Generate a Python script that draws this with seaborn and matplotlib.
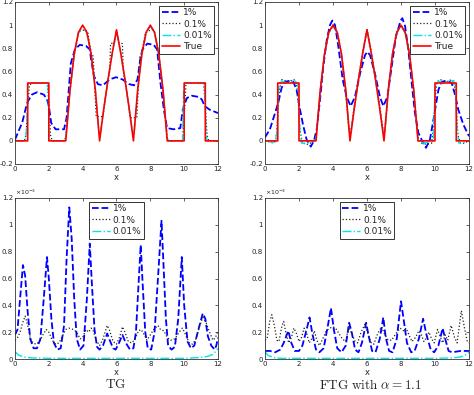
import numpy as np
import pandas as pd
import matplotlib
matplotlib.use("Agg")
import matplotlib.pyplot as plt
import seaborn as sns

# ---------------- data ----------------
# True solution (same in both upper panels)
true_x = [0, 0.75, 0.75, 2.0, 2.0, 3.0, 3.25, 3.5, 3.75, 4.0, 4.25, 4.5, 4.75, 5.0,
          5.25, 5.5, 5.75, 6.0, 6.25, 6.5, 6.75, 7.0, 7.25, 7.5, 7.75, 8.0, 8.25,
          8.5, 8.75, 9.0, 10.0, 10.0, 11.25, 11.25, 12.0]
true_y = [0, 0, 0.5, 0.5, 0, 0, 0.4375, 0.75, 0.9375, 1.0, 0.9375, 0.75, 0.4375, 0.0,
          0.28, 0.53, 0.76, 0.96, 0.76, 0.53, 0.28, 0.0, 0.4375, 0.75, 0.9375, 1.0,
          0.9375, 0.75, 0.4375, 0.0, 0.0, 0.5, 0.5, 0.0, 0.0]

# TG reconstructions
tg1_x = [0, 0.43, 0.72, 1.0, 1.3, 1.7, 1.89, 2.0, 2.14, 2.4, 2.9, 3.05, 3.3, 3.54, 3.83,
         4.2, 4.42, 4.5, 4.67, 4.9, 5.2, 5.58, 5.97, 6.36, 6.75, 7.04, 7.24, 7.4, 7.53,
         7.82, 8.2, 8.4, 8.6, 8.8, 8.99, 9.38, 9.77, 9.92, 10.16, 10.45, 10.84, 11.03,
         11.22, 11.5, 12.0]
tg1_y = [0.01, 0.16, 0.33, 0.40, 0.42, 0.40, 0.36, 0.30, 0.155, 0.10, 0.10, 0.20, 0.67,
         0.79, 0.83, 0.82, 0.79, 0.70, 0.56, 0.49, 0.48, 0.53, 0.55, 0.53, 0.49, 0.48,
         0.53, 0.70, 0.79, 0.84, 0.83, 0.79, 0.50, 0.27, 0.11, 0.10, 0.11, 0.27, 0.37,
         0.39, 0.38, 0.36, 0.30, 0.27, 0.24]
tg01_x = [0, 0.55, 0.65, 0.75, 0.85, 1.0, 1.9, 2.0, 2.1, 2.2, 2.9, 3.0, 3.25, 3.5, 3.75,
          3.85, 4.15, 4.3, 4.5, 4.62, 4.7, 4.8, 5.2, 5.3, 5.5, 5.6, 5.65, 5.88, 6.0, 6.12,
          6.35, 6.4, 6.5, 6.7, 6.8, 7.2, 7.3, 7.38, 7.5, 7.7, 7.85, 8.15, 8.25, 8.5, 8.75,
          9.0, 9.1, 9.9, 10.0, 10.1, 10.2, 11.15, 11.25, 11.35, 11.45, 12.0]
tg01_y = [0, 0, 0.05, 0.30, 0.48, 0.5, 0.5, 0.35, 0.05, 0, 0, 0.03, 0.43, 0.74, 0.93,
          0.95, 0.96, 0.94, 0.76, 0.73, 0.50, 0.21, 0.21, 0.33, 0.53, 0.60, 0.84, 0.85,
          0.95, 0.85, 0.84, 0.60, 0.53, 0.33, 0.20, 0.20, 0.50, 0.73, 0.76, 0.93, 0.95,
          0.96, 0.94, 0.75, 0.44, 0.02, 0, 0, 0.2, 0.48, 0.5, 0.5, 0.3, 0.05, 0, 0]
tg001_x = [0, 0.6, 0.68, 0.75, 0.85, 1.95, 2.02, 2.1, 2.95, 3.0, 3.25, 3.5, 3.75, 4.0,
           4.25, 4.5, 4.75, 4.95, 5.05, 5.25, 5.5, 5.75, 6.0, 6.25, 6.5, 6.75, 6.95,
           7.05, 7.25, 7.5, 7.75, 8.0, 8.25, 8.5, 8.75, 9.0, 9.1, 9.9, 9.97, 10.05,
           11.2, 11.28, 11.35, 12.0]
tg001_y = [0, 0, 0.08, 0.48, 0.5, 0.5, 0.03, 0, 0, 0.02, 0.43, 0.75, 0.93, 0.99, 0.93,
           0.75, 0.44, 0.08, 0.08, 0.27, 0.53, 0.76, 0.94, 0.76, 0.53, 0.27, 0.08, 0.08,
           0.43, 0.75, 0.93, 0.99, 0.93, 0.75, 0.44, 0.02, 0, 0, 0.45, 0.5, 0.5, 0.1,
           0, 0]

# FTG reconstructions
ftg1_x = [0, 0.29, 0.59, 0.78, 0.98, 1.18, 1.47, 1.67, 1.86, 2.06, 2.25, 2.45, 2.69,
          2.88, 3.04, 3.24, 3.43, 3.63, 3.82, 3.96, 4.12, 4.31, 4.57, 4.8, 5.04, 5.29,
          5.59, 5.88, 6.02, 6.18, 6.47, 6.76, 6.96, 7.2, 7.45, 7.7, 7.98, 8.08, 8.24,
          8.43, 8.63, 8.82, 9.02, 9.31, 9.47, 9.7, 9.94, 10.2, 10.39, 10.69, 10.98,
          11.18, 11.37, 11.67, 12.0]
ftg1_y = [0.03, 0.10, 0.24, 0.33, 0.46, 0.51, 0.52, 0.51, 0.44, 0.27, 0.13, 0.01, -0.05,
          0.0, 0.10, 0.36, 0.64, 0.87, 1.0, 1.04, 1.0, 0.82, 0.53, 0.38, 0.30, 0.38,
          0.58, 0.74, 0.77, 0.74, 0.58, 0.38, 0.30, 0.38, 0.64, 0.90, 1.04, 1.06, 0.99,
          0.79, 0.50, 0.24, 0.07, -0.02, -0.06, 0.01, 0.21, 0.44, 0.51, 0.52, 0.50,
          0.40, 0.27, 0.14, 0.04]
ftg01_x = [0, 0.3, 0.5, 0.65, 0.75, 0.85, 1.0, 1.35, 1.7, 1.85, 1.95, 2.05, 2.2, 2.5,
           2.8, 3.0, 3.25, 3.5, 3.75, 4.0, 4.25, 4.5, 4.75, 4.92, 5.0, 5.08, 5.25, 5.5,
           5.75, 6.0, 6.25, 6.5, 6.75, 6.92, 7.0, 7.08, 7.25, 7.5, 7.75, 8.0, 8.25, 8.5,
           8.75, 9.0, 9.2, 9.5, 9.8, 9.9, 10.0, 10.1, 10.3, 10.65, 11.0, 11.15, 11.25,
           11.35, 11.5, 11.7, 12.0]
ftg01_y = [0, -0.01, -0.02, 0.02, 0.2, 0.45, 0.53, 0.51, 0.53, 0.5, 0.35, 0.1, -0.02,
           -0.03, -0.01, 0.03, 0.43, 0.75, 0.94, 1.0, 0.94, 0.75, 0.43, 0.12, 0.06, 0.12,
           0.3, 0.54, 0.77, 0.97, 0.77, 0.54, 0.3, 0.12, 0.06, 0.12, 0.43, 0.75, 0.94,
           1.0, 0.94, 0.75, 0.43, 0.03, -0.02, -0.03, -0.02, 0.1, 0.35, 0.5, 0.53, 0.51,
           0.53, 0.48, 0.3, 0.05, -0.02, -0.02, 0.0]
ftg001_x = [0, 0.4, 0.6, 0.72, 0.8, 0.9, 1.3, 1.75, 1.95, 2.05, 2.15, 2.5, 2.9, 3.0,
            3.25, 3.5, 3.75, 4.0, 4.25, 4.5, 4.75, 4.95, 5.05, 5.25, 5.5, 5.75, 6.0,
            6.25, 6.5, 6.75, 6.95, 7.05, 7.25, 7.5, 7.75, 8.0, 8.25, 8.5, 8.75, 9.0,
            9.3, 9.9, 10.0, 10.1, 10.5, 11.1, 11.2, 11.3, 11.4, 11.8, 12.0]
ftg001_y = [0, -0.01, -0.02, 0.1, 0.45, 0.52, 0.5, 0.52, 0.48, 0.1, -0.02, -0.02, 0.0,
            0.02, 0.43, 0.75, 0.93, 0.99, 0.93, 0.75, 0.44, 0.08, 0.08, 0.27, 0.53,
            0.76, 0.95, 0.76, 0.53, 0.27, 0.08, 0.08, 0.43, 0.75, 0.93, 0.99, 0.93,
            0.75, 0.44, 0.0, -0.02, 0.0, 0.45, 0.52, 0.5, 0.52, 0.48, 0.1, -0.02,
            -0.01, 0]

# Errors (units of 1e-3)
err_scale = 1e-3
tge1_x = [0, 0.15, 0.3, 0.47, 0.6, 0.75, 0.9, 1.1, 1.3, 1.5, 1.7, 1.89, 2.0, 2.15, 2.3,
          2.5, 2.7, 2.9, 3.05, 3.21, 3.35, 3.5, 3.65, 3.85, 4.05, 4.25, 4.42, 4.55, 4.7,
          4.85, 5.0, 5.2, 5.45, 5.6, 5.8, 5.95, 6.15, 6.35, 6.55, 6.8, 7.0, 7.15, 7.3,
          7.43, 7.55, 7.7, 7.85, 8.05, 8.25, 8.45, 8.66, 8.78, 8.92, 9.05, 9.25, 9.45,
          9.65, 9.86, 10.0, 10.2, 10.4, 10.6, 10.8, 11.1, 11.25, 11.4, 11.6, 11.8, 11.9,
          12.0]
tge1_y = [0.18, 0.22, 0.45, 0.70, 0.62, 0.35, 0.15, 0.08, 0.08, 0.15, 0.45, 0.76, 0.60,
          0.30, 0.12, 0.07, 0.08, 0.25, 0.75, 1.13, 0.90, 0.45, 0.15, 0.07, 0.10, 0.45,
          0.86, 0.55, 0.22, 0.09, 0.07, 0.10, 0.19, 0.14, 0.08, 0.07, 0.12, 0.18, 0.12,
          0.07, 0.08, 0.20, 0.55, 0.85, 0.55, 0.20, 0.08, 0.07, 0.20, 0.60, 1.03, 0.70,
          0.30, 0.10, 0.07, 0.09, 0.30, 0.76, 0.40, 0.13, 0.08, 0.10, 0.20, 0.34, 0.30,
          0.17, 0.10, 0.07, 0.10, 0.16]
tge01_x = [0, 0.15, 0.3, 0.45, 0.6, 0.75, 0.9, 1.05, 1.25, 1.45, 1.65, 1.85, 2.0, 2.2,
           2.4, 2.6, 2.8, 3.0, 3.2, 3.45, 3.65, 3.85, 4.0, 4.2, 4.35, 4.5, 4.6, 4.8, 5.0,
           5.2, 5.45, 5.6, 5.8, 6.0, 6.2, 6.35, 6.5, 6.7, 6.9, 7.1, 7.3, 7.45, 7.6, 7.8,
           8.0, 8.2, 8.45, 8.6, 8.8, 9.0, 9.2, 9.45, 9.7, 9.9, 10.05, 10.3, 10.5, 10.7,
           10.9, 11.1, 11.3, 11.5, 11.7, 11.85, 12.0]
tge01_y = [0.14, 0.16, 0.20, 0.27, 0.32, 0.25, 0.16, 0.12, 0.11, 0.13, 0.18, 0.22, 0.20,
           0.14, 0.11, 0.12, 0.17, 0.22, 0.23, 0.22, 0.20, 0.15, 0.16, 0.22, 0.20, 0.23,
           0.22, 0.14, 0.10, 0.15, 0.25, 0.21, 0.13, 0.11, 0.17, 0.24, 0.20, 0.13, 0.12,
           0.15, 0.21, 0.22, 0.19, 0.14, 0.18, 0.22, 0.25, 0.22, 0.21, 0.16, 0.14, 0.15,
           0.20, 0.23, 0.19, 0.12, 0.11, 0.15, 0.24, 0.31, 0.27, 0.20, 0.14, 0.16, 0.21]
tge001_x = [0, 0.2, 0.5, 1.0, 2.0, 4.0, 6.0, 8.0, 10.0, 10.5, 11.0, 11.4, 11.7, 11.9, 12.0]
tge001_y = [0.055, 0.03, 0.015, 0.008, 0.005, 0.005, 0.005, 0.005, 0.005, 0.008, 0.012,
            0.02, 0.035, 0.06, 0.08]

ftge1_x = [0, 0.3, 0.6, 0.9, 1.1, 1.37, 1.55, 1.75, 2.0, 2.2, 2.45, 2.62, 2.8, 3.0, 3.2,
           3.45, 3.7, 3.88, 4.05, 4.25, 4.5, 4.75, 4.95, 5.1, 5.3, 5.5, 5.7, 5.95, 6.1,
           6.3, 6.5, 6.75, 6.96, 7.1, 7.3, 7.5, 7.75, 8.0, 8.15, 8.35, 8.6, 8.8, 9.05,
           9.3, 9.5, 9.75, 9.95, 10.2, 10.45, 10.6, 10.8, 11.0, 11.5, 12.0]
ftge1_y = [0.06, 0.06, 0.05, 0.07, 0.12, 0.21, 0.12, 0.06, 0.06, 0.10, 0.22, 0.31, 0.18,
           0.07, 0.05, 0.08, 0.25, 0.38, 0.22, 0.08, 0.05, 0.10, 0.27, 0.20, 0.07, 0.05,
           0.12, 0.27, 0.17, 0.06, 0.05, 0.15, 0.31, 0.16, 0.06, 0.05, 0.15, 0.43, 0.30,
           0.12, 0.05, 0.06, 0.15, 0.30, 0.18, 0.07, 0.05, 0.10, 0.23, 0.15, 0.06, 0.05,
           0.06, 0.06]
ftge01_x = [0, 0.12, 0.28, 0.4, 0.55, 0.7, 0.82, 1.0, 1.1, 1.25, 1.4, 1.55, 1.7, 1.85,
            2.0, 2.15, 2.3, 2.45, 2.6, 2.75, 2.9, 3.05, 3.2, 3.4, 3.6, 3.8, 4.0, 4.15,
            4.35, 4.55, 4.75, 4.92, 5.1, 5.3, 5.45, 5.65, 5.88, 6.05, 6.25, 6.4, 6.6,
            6.85, 7.05, 7.25, 7.45, 7.7, 7.95, 8.15, 8.3, 8.5, 8.65, 8.85, 9.05, 9.2,
            9.35, 9.5, 9.65, 9.8, 9.95, 10.15, 10.3, 10.45, 10.6, 10.75, 10.95, 11.15,
            11.3, 11.55, 11.75, 11.9, 12.0]
ftge01_y = [0.14, 0.15, 0.28, 0.33, 0.25, 0.14, 0.13, 0.25, 0.28, 0.18, 0.12, 0.16,
            0.23, 0.19, 0.13, 0.16, 0.23, 0.19, 0.12, 0.15, 0.21, 0.14, 0.10, 0.15,
            0.21, 0.23, 0.24, 0.23, 0.19, 0.15, 0.13, 0.24, 0.19, 0.13, 0.12, 0.20,
            0.26, 0.19, 0.12, 0.11, 0.18, 0.24, 0.18, 0.14, 0.14, 0.19, 0.23, 0.21,
            0.23, 0.17, 0.13, 0.16, 0.21, 0.18, 0.13, 0.16, 0.20, 0.15, 0.12, 0.22,
            0.17, 0.12, 0.18, 0.14, 0.25, 0.16, 0.12, 0.36, 0.22, 0.13, 0.12]
ftge001_x = [0, 0.2, 0.6, 1.0, 2.0, 4.0, 6.0, 8.0, 10.0, 11.0, 11.5, 11.8, 12.0]
ftge001_y = [0.055, 0.025, 0.008, 0.005, 0.005, 0.005, 0.005, 0.005, 0.005, 0.008,
             0.015, 0.03, 0.05]

labels_noise = ["1%", "0.1%", "0.01%"]
label_true = "True"
xticks = [0, 2, 4, 6, 8, 10, 12]
yticks_top = [-0.2, 0, 0.2, 0.4, 0.6, 0.8, 1, 1.2]
yticks_bot = [0, 0.2e-3, 0.4e-3, 0.6e-3, 0.8e-3, 1.0e-3, 1.2e-3]
panel_titles = ["$\\mathrm{TG}$", "$\\mathrm{FTG\\ with}\\ \\alpha = 1.1$"]

# ---------------- styling ----------------
sns.set_style("white")
plt.rcParams["font.family"] = ["DejaVu Sans"]
plt.rcParams["mathtext.fontset"] = "dejavusans"

STY = [dict(color="#0000ff", linestyle="--", linewidth=1.3),
       dict(color="#222222", linestyle=":", linewidth=0.9),
       dict(color="#00e5e5", linestyle="-.", linewidth=1.0)]
STY_TRUE = dict(color="#ff0000", linestyle="-", linewidth=1.2)

fig = plt.figure(figsize=(4.74, 3.95), dpi=100)
W, H = 474.0, 395.0


def make_ax(l, t, r, b):
    return fig.add_axes([l / W, 1 - b / H, (r - l) / W, (b - t) / H])


ax_tl = make_ax(15, 2, 218, 164)
ax_tr = make_ax(265, 2, 469, 164)
ax_bl = make_ax(15, 198, 218, 359)
ax_br = make_ax(265, 198, 469, 359)


def line(ax, xs, ys, sty, label, scale=1.0):
    df = pd.DataFrame({"x": xs, "y": np.asarray(ys, dtype=float) * scale})
    sns.lineplot(data=df, x="x", y="y", ax=ax, estimator=None, sort=False,
                 label=label, **sty)


def style_ax(ax, yticks, ylim):
    ax.set_xlim(0, 12)
    ax.set_ylim(*ylim)
    ax.set_xticks(xticks)
    ax.set_yticks(yticks)
    ax.tick_params(direction="in", top=True, right=True, length=2.5, width=0.5,
                   labelsize=5, pad=1.5, colors="#222222")
    for s in ax.spines.values():
        s.set_linewidth(0.6)
        s.set_color("#333333")
    ax.set_xlabel("x", fontsize=6, labelpad=1)
    ax.set_ylabel("")


def add_legend(ax, loc):
    leg = ax.legend(loc=loc, fontsize=6.5, frameon=True, fancybox=False,
                    edgecolor="#333333", framealpha=1, handlelength=2.0,
                    labelspacing=0.25, borderpad=0.3, handletextpad=0.3,
                    borderaxespad=0.4)
    leg.get_frame().set_linewidth(0.7)


# top panels
for ax, (x1, y1, x2, y2, x3, y3) in zip(
        [ax_tl, ax_tr],
        [(tg1_x, tg1_y, tg01_x, tg01_y, tg001_x, tg001_y),
         (ftg1_x, ftg1_y, ftg01_x, ftg01_y, ftg001_x, ftg001_y)]):
    line(ax, x1, y1, STY[0], labels_noise[0])
    line(ax, x2, y2, STY[1], labels_noise[1])
    line(ax, x3, y3, STY[2], labels_noise[2])
    line(ax, true_x, true_y, STY_TRUE, label_true)
    style_ax(ax, yticks_top, (-0.2, 1.2))
    ax.set_yticklabels(["-0.2", "0", "0.2", "0.4", "0.6", "0.8", "1", "1.2"])
    add_legend(ax, "upper right")

# bottom panels
for ax, (x1, y1, x2, y2, x3, y3) in zip(
        [ax_bl, ax_br],
        [(tge1_x, tge1_y, tge01_x, tge01_y, tge001_x, tge001_y),
         (ftge1_x, ftge1_y, ftge01_x, ftge01_y, ftge001_x, ftge001_y)]):
    line(ax, x1, y1, STY[0], labels_noise[0], err_scale)
    line(ax, x2, y2, STY[1], labels_noise[1], err_scale)
    line(ax, x3, y3, STY[2], labels_noise[2], err_scale)
    style_ax(ax, yticks_bot, (0, 1.2e-3))
    ax.set_yticklabels(["0", "0.2", "0.4", "0.6", "0.8", "1", "1.2"])
    ax.text(0.0, 1.005, "$\\times10^{-3}$", transform=ax.transAxes, fontsize=4.5,
            ha="left", va="bottom", color="#222222")
    add_legend(ax, "upper center")

fig.text(116 / W, 1 - 385 / H, panel_titles[0], ha="center", va="center",
         fontsize=9.5, math_fontfamily="cm")
fig.text(370 / W, 1 - 385 / H, panel_titles[1], ha="center", va="center",
         fontsize=9.5, math_fontfamily="cm")

fig.savefig("out.png", dpi=100)
